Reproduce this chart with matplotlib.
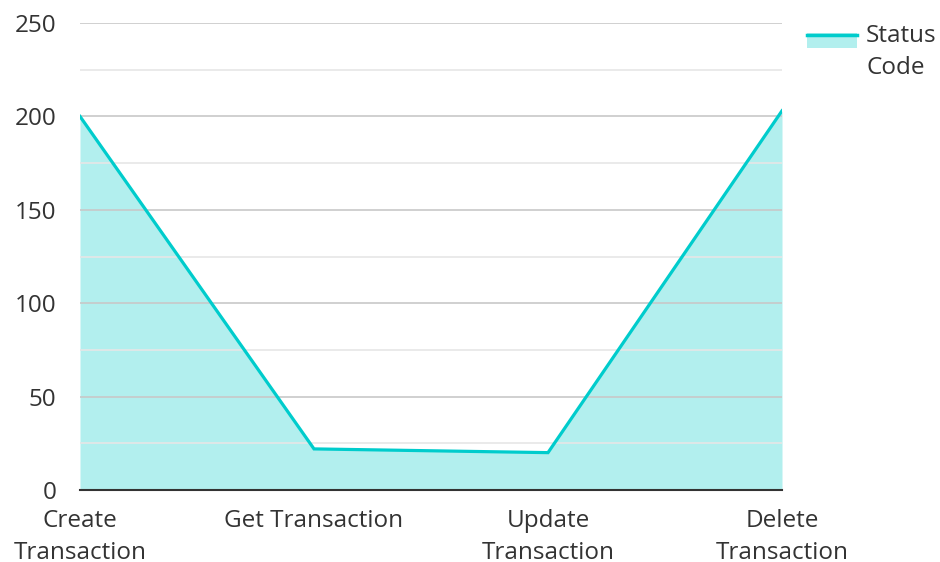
import matplotlib
matplotlib.use("Agg")
import matplotlib.pyplot as plt
from matplotlib.patches import Rectangle
from matplotlib.lines import Line2D

categories = ["Create\nTransaction", "Get Transaction", "Update\nTransaction", "Delete\nTransaction"]
status_code = [200, 22, 20, 203]
series_name = "Status\nCode"

plt.rcParams['font.family'] = ['Open Sans', 'DejaVu Sans']
text_color = '#333333'
line_color = '#00cccc'
fill_color = '#b2efee'
fs = 17.5

fig = plt.figure(figsize=(9.4, 5.62), dpi=100)
ax = fig.add_axes([80/940, 1-490/562, (782-80)/940, (490-23)/562])

x = list(range(len(categories)))
ax.fill_between(x, status_code, 0, color=fill_color, lw=0, zorder=1)
ax.plot(x, status_code, color=line_color, lw=2.3, zorder=3, solid_joinstyle='miter')

ax.set_xlim(0, len(categories)-1)
ax.set_ylim(0, 250)
ax.set_yticks([0, 50, 100, 150, 200, 250])
ax.set_yticks([25, 75, 125, 175, 225], minor=True)
ax.grid(axis='y', which='major', color='#c8c8c8', lw=1.2, zorder=2)
ax.grid(axis='y', which='minor', color='#e6e6e6', lw=1.2, zorder=2)
ax.set_axisbelow(False)
ax.set_xticks(x)
ax.set_xticklabels(categories, linespacing=1.45)
for s in ['top', 'right', 'left']:
    ax.spines[s].set_visible(False)
ax.spines['bottom'].set_color('#333333')
ax.spines['bottom'].set_linewidth(1.5)
ax.spines['bottom'].set_zorder(4)
ax.tick_params(axis='both', which='both', length=0, labelsize=fs, colors=text_color)
ax.tick_params(axis='y', pad=17)
ax.tick_params(axis='x', pad=13.5)

# legend
fig.patches.append(Rectangle((807/940, 1-48/562), 50/940, 15/562, transform=fig.transFigure,
                             facecolor=fill_color, edgecolor='none'))
fig.lines.append(Line2D([807/940, 857/940], [1-35/562, 1-35/562], transform=fig.transFigure,
                        color=line_color, lw=2.5))
fig.text(866/940, 1-24/562, series_name, fontsize=fs, color=text_color, va='top', ha='left',
         linespacing=1.45)

fig.savefig("out.png", dpi=100)
